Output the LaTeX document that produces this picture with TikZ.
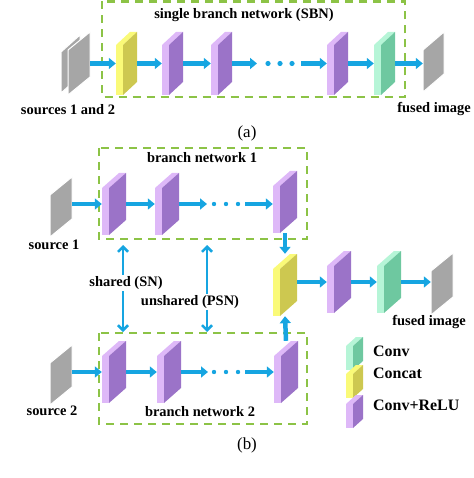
\documentclass[tikz,border=0pt]{standalone}
\usepackage{fontspec}
\setmainfont{Liberation Serif}
\usetikzlibrary{arrows.meta}
\definecolor{flowblue}{RGB}{22,165,225}
\definecolor{boxgreen}{RGB}{140,195,70}
\definecolor{imgray}{RGB}{166,166,166}
\definecolor{purplelt}{RGB}{222,184,248}
\definecolor{purpledk}{RGB}{155,115,200}
\definecolor{yellowlt}{RGB}{250,250,120}
\definecolor{yellowdk}{RGB}{205,200,80}
\definecolor{greenlt}{RGB}{182,245,215}
\definecolor{greendk}{RGB}{110,200,160}
% slab: name, x, y bottom, width, rise, height, front colour, side colour
\def\slab#1#2#3#4#5#6#7#8{%
  \fill[#7] (#2,#3) rectangle ({#2+7},{#3-#6});
  \fill[#7] (#2,{#3-#6}) -- ({#2+#4},{#3-#6-#5}) -- ({#2+7+#4},{#3-#6-#5}) -- ({#2+7},{#3-#6}) -- cycle;
  \fill[#8] ({#2+7},#3) -- ({#2+7},{#3-#6}) -- ({#2+7+#4},{#3-#6-#5}) -- ({#2+7+#4},{#3-#5}) -- cycle;
  \node[inner sep=0pt, minimum width={(7+#4)*1bp}, minimum height={(#6+#5)*1bp}] (#1) at ({#2+(7+#4)/2},{#3-(#6+#5)/2}) {};
}
% photo: name, x, y bottom, width, rise, height
\def\photo#1#2#3#4#5#6{%
  \filldraw[fill=imgray, draw=white, line width=1bp] (#2,#3) -- (#2,{#3-#6}) -- ({#2+#4},{#3-#6-#5}) -- ({#2+#4},{#3-#5}) -- cycle;
  \node[inner sep=0pt, minimum width={#4*1bp}, minimum height={(#6+#5)*1bp}] (#1) at ({#2+#4/2},{#3-(#6+#5)/2}) {};
}

\begin{document}
\begin{tikzpicture}[x=1bp, y=-1bp,
	flow/.style={draw=flowblue, line width=4.5bp, -{Triangle[width=11bp,length=7bp]}},
	link/.style={draw=flowblue, line width=2.5bp, {Straight Barb[width=10bp,length=5bp]}-{Straight Barb[width=10bp,length=5bp]}},
	netbox/.style={draw=boxgreen, line width=2.2bp, dash pattern=on 8bp off 6bp},
	label/.style={font=\bfseries\fontsize{14.5}{16}\selectfont, inner sep=1bp},
	legendtext/.style={font=\bfseries\fontsize{16}{18}\selectfont, inner sep=0pt, anchor=west},
	caption/.style={font=\fontsize{17}{19}\selectfont}]
			\useasboundingbox (0,0) rectangle (474,478);
			%%%%% (a) %%%%%
			
			\draw[netbox] (102,1.5) rectangle (405,97);
			\node[label] (sbn) at (244,15) {single branch network (SBN)};
			
			\photo{srcA}{61}{93}{19}{17}{41}
			\photo{srcB}{68}{95}{22}{18}{45}
			\slab{catA}{116}{95}{14}{13}{50}{yellowlt}{yellowdk}
			\slab{upA1}{162}{95}{14}{13}{50}{purplelt}{purpledk}
			\slab{upA2}{211}{95}{14}{13}{50}{purplelt}{purpledk}
			\slab{upA3}{327}{95}{14}{13}{50}{purplelt}{purpledk}
			\slab{convA}{374}{95}{14}{13}{50}{greenlt}{greendk}
			\photo{fusedA}{423}{92}{21}{18}{42}
			
			\coordinate (gapAin) at (257,63.5);
			\coordinate (gapAout) at (301,63.5);
			\foreach \dx in {268,280,292}
				\fill[flowblue] (\dx,63.5) circle (2.6bp);
			
			\draw[flow] (srcB.east) -- (catA.west);
			\draw[flow] (catA.east) -- (upA1.west);
			\draw[flow] (upA1.east) -- (upA2.west);
			\draw[flow] (upA2.east) -- (gapAin);
			\draw[flow] (gapAout) -- (upA3.west);
			\draw[flow] (upA3.east) -- (convA.west);
			\draw[flow] (convA.east) -- (fusedA.west |- convA.east);
			
			\node[label] (srcAtxt) at (68,110) {sources 1 and 2};
			\node[label] (fusedAtxt) at (434,109) {fused image};
			\node[caption] (capA) at (247,133) {(a)};
			
			%%%%% (b) %%%%%
			
			\draw[netbox] (99,148) rectangle (307,239);
			\draw[netbox] (99,333) rectangle (307,424);
			\node[label] (bn1) at (202,158) {branch network 1};
			\node[label] (bn2) at (200,412) {branch network 2};
			
			\photo{src1}{50}{237}{22}{18}{42}
			\slab{up1}{102}{235}{17}{15}{47}{purplelt}{purpledk}
			\slab{up2}{155}{235}{17}{15}{47}{purplelt}{purpledk}
			\slab{up3}{273}{233}{17}{15}{47}{purplelt}{purpledk}
			
			\photo{src2}{50}{405}{22}{18}{42}
			\slab{lo1}{102}{403}{17}{15}{47}{purplelt}{purpledk}
			\slab{lo2}{157}{403}{17}{15}{47}{purplelt}{purpledk}
			\slab{lo3}{274}{403}{17}{15}{47}{purplelt}{purpledk}
			
			\slab{catB}{273}{316}{17}{15}{47}{yellowlt}{yellowdk}
			\slab{reluB}{327}{313}{17}{15}{47}{purplelt}{purpledk}
			\slab{convB}{377}{313}{17}{15}{47}{greenlt}{greendk}
			\photo{fusedB}{431}{315}{22}{18}{44}
			
			\coordinate (gap1in) at (207,204);
			\coordinate (gap1out) at (245,204);
			\coordinate (gap2in) at (208,372);
			\coordinate (gap2out) at (245,372);
			\foreach \dx in {214,226,238} {
				\fill[flowblue] (\dx,204) circle (2.2bp);
				\fill[flowblue] (\dx,372) circle (2.2bp);
			}
			
			\draw[flow] (src1.east |- up1.west) -- (up1.west);
			\draw[flow] (up1.east) -- (up2.west);
			\draw[flow] (up2.east) -- (gap1in);
			\draw[flow] (gap1out) -- (up3.west |- gap1out);
			
			\draw[flow] (src2.east |- lo1.west) -- (lo1.west);
			\draw[flow] (lo1.east) -- (lo2.west);
			\draw[flow] (lo2.east) -- (gap2in);
			\draw[flow] (gap2out) -- (lo3.west);
			
			\draw[flow] (up3.south) -- (catB.north);
			\draw[flow] (lo3.north) -- (catB.south);
			\draw[flow] (catB.east |- reluB.west) -- (reluB.west);
			\draw[flow] (reluB.east) -- (convB.west);
			\draw[flow] (convB.east) -- (fusedB.west |- convB.east);
			
			\coordinate (sn1) at (123,245);
			\coordinate (sn2) at (123,332);
			\coordinate (psn1) at (207,245);
			\coordinate (psn2) at (207,332);
			\draw[link] (sn1) -- (sn2);
			\draw[link] (psn1) -- (psn2);
			\node[label, fill=white] (sntxt) at (126,283) {shared (SN)};
			\node[label, fill=white] (psntxt) at (190,302) {unshared (PSN)};
			
			\node[label] (src1txt) at (54,245) {source 1};
			\node[label] (src2txt) at (52,411) {source 2};
			\node[label] (fusedBtxt) at (429,322) {fused image};
			
			% legend
			\slab{legconv}{346}{370}{10}{9}{24}{greenlt}{greendk}
			\slab{legcat}{346}{398}{10}{9}{24}{yellowlt}{yellowdk}
			\slab{legrelu}{346}{428}{10}{9}{24}{purplelt}{purpledk}
			\node[legendtext] (convtxt) at (373,351) {Conv};
			\node[legendtext] (cattxt) at (373,373) {Concat};
			\node[legendtext] (relutxt) at (373,405) {Conv+ReLU};
			
			\node[caption] (capB) at (247,445) {(b)};
			
		\end{tikzpicture}
\end{document}
